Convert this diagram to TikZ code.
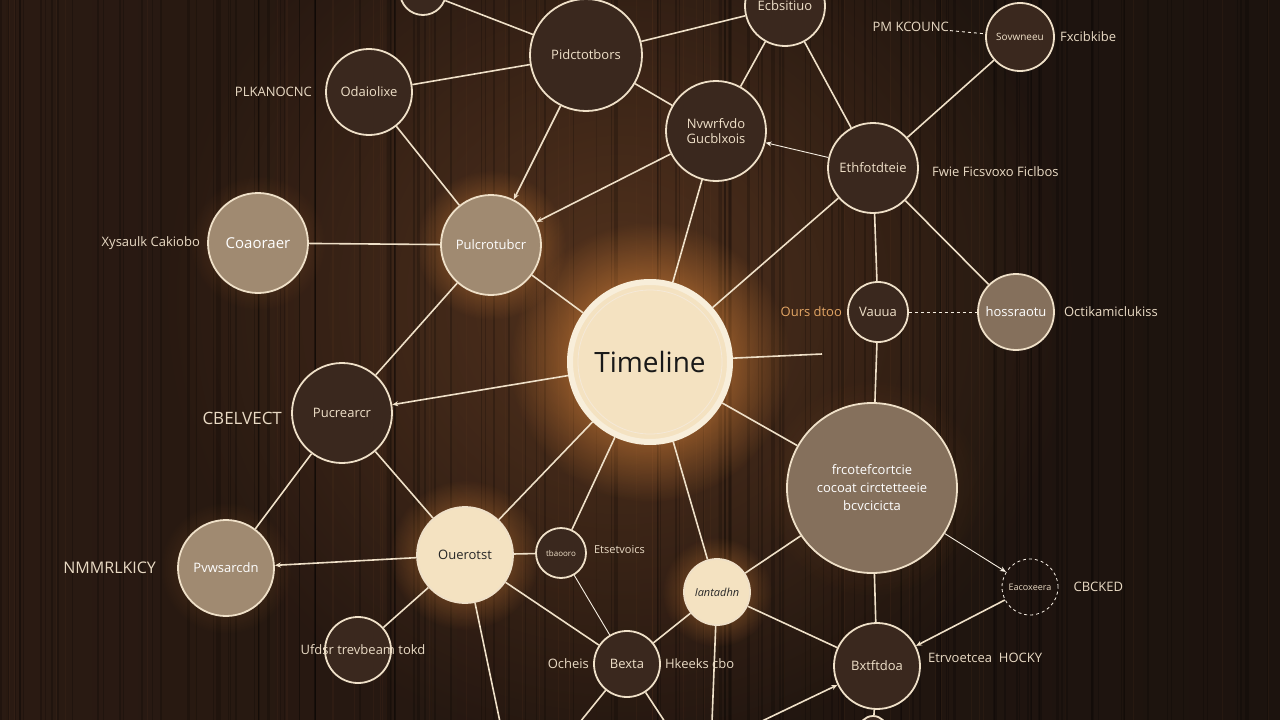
\documentclass[tikz,border=0pt]{standalone}
\usepackage{fontspec}
\setmainfont{Open Sans}
\usetikzlibrary{arrows.meta}
\usetikzlibrary{fadings}

\pgfdeclarelayer{woodlayer}
\pgfdeclarelayer{glowlayer}
\pgfdeclarelayer{edgelayer}
\pgfsetlayers{woodlayer,glowlayer,edgelayer,main}

\definecolor{woodbase}{HTML}{1C130E}
\definecolor{woodleft}{HTML}{2A1A12}
\definecolor{woodwarm}{HTML}{6A4024}
\definecolor{linecol}{HTML}{EFE0C8}
\definecolor{darkfill}{HTML}{3A281E}
\definecolor{tanfill}{HTML}{A08A71}
\definecolor{midfill}{HTML}{85705C}
\definecolor{creamfill}{HTML}{F4E2C1}
\definecolor{glowcol}{HTML}{FF9A40}
\definecolor{labelcol}{HTML}{E9DAC4}
\definecolor{orangelab}{HTML}{E2A564}

\tikzfading[name=glowfade, inner color=transparent!15, outer color=transparent!100]

\tikzset{
  topic/.style={circle, draw=linecol, line width=1.8pt, inner sep=1pt,
    text=linecol, align=center, font=\fontsize{13}{15}\selectfont},
  darktopic/.style={topic, fill=darkfill},
  tantopic/.style={topic, fill=tanfill, text=white},
  creamtopic/.style={topic, fill=creamfill, text=black!85},
  sidelabel/.style={text=labelcol, inner sep=1pt, font=\fontsize{13}{15}\selectfont},
  link/.style={draw=linecol, line width=1.6pt},
  faintlink/.style={draw=linecol!55, line width=0.9pt},
  tip/.style={-{Stealth[length=6pt,width=5pt]}},
}

\begin{document}
\begin{tikzpicture}[x=1pt,y=-1pt]
\useasboundingbox (0,0) rectangle (1280,720);

% wood background
\begin{pgfonlayer}{woodlayer}
  \shade[left color=woodleft, right color=woodbase] (0,0) rectangle (1280,720);
  \fill[woodwarm, path fading=glowfade, opacity=0.8] (620,300) circle (460);
  \pgfmathsetseed{11}
  \foreach \i in {1,...,140} {
    \pgfmathsetmacro\gx{rnd*1280}
    \pgfmathsetmacro\gw{0.4+rnd*2.5}
    \draw[black, opacity=0.2, line width=\gw pt] (\gx,0) -- (\gx,720);
  }
  \foreach \i in {1,...,50} {
    \pgfmathsetmacro\gx{rnd*1280}
    \draw[woodwarm, opacity=0.12, line width=1pt] (\gx,0) -- (\gx,720);
  }
\end{pgfonlayer}

% topics
\node[darktopic, minimum size=46] (tiny) at (423,-8) {};
\node[darktopic, minimum size=112] (pid) at (586,55) {Pidctotbors};
\node[darktopic, minimum size=80] (ecb) at (785,6) {Ecbsitiuo};
\node[darktopic, minimum size=86] (oda) at (369,92) {Odaiolixe};
\node[darktopic, minimum size=100] (nvw) at (716,131) {Nvwrfvdo\\Gucblxois};
\node[darktopic, minimum size=90] (eth) at (873,168) {Ethfotdteie};
\node[darktopic, minimum size=68, font=\fontsize{10}{12}\selectfont] (sov) at (1020,37) {Sovwneeu};
\node[tantopic, minimum size=100, font=\fontsize{15}{17}\selectfont] (coa) at (258,243) {Coaoraer};
\node[tantopic, minimum size=100] (pul) at (491,245) {Pulcrotubcr};
\node[circle, fill=creamfill, draw=creamfill!60!white, line width=6pt,
      minimum size=160, text=black!90, font=\fontsize{28}{32}\selectfont] (time) at (650,362) {Timeline};
\draw[linecol!70!white, line width=0.8pt] (time.center) circle (72);
\node[darktopic, minimum size=60] (vau) at (878,312) {Vauua};
\node[topic, fill=midfill, text=white, minimum size=76] (hos) at (1016,312) {hossraotu};
\coordinate (dangle) at (822,354);
\node[darktopic, minimum size=100] (puc) at (342,413) {Pucrearcr};
\node[topic, fill=midfill, text=white, minimum size=170, font=\fontsize{13}{18}\selectfont] (big) at (872,488)
  {frcotefcortcie\\cocoat circtetteeie\\bcvcicicta};
\node[tantopic, minimum size=96] (pvw) at (226,568) {Pvwsarcdn};
\node[creamtopic, minimum size=96] (oue) at (465,555) {Ouerotst};
\node[darktopic, minimum size=50, font=\fontsize{8}{10}\selectfont] (tba) at (561,553) {tbaooro};
\node[creamtopic, minimum size=66, font=\itshape\fontsize{11}{13}\selectfont] (ian) at (717,592) {Iantadhn};
\node[darktopic, minimum size=66] (ufd) at (358,650) {};
\node[darktopic, minimum size=66] (bex) at (627,664) {Bexta};
\node[darktopic, minimum size=86] (bxt) at (877,666) {Bxtftdoa};
\node[circle, draw=linecol!50, dashed, line width=0.8pt, minimum size=56,
      text=labelcol, font=\fontsize{9}{11}\selectfont] (eac) at (1030,587) {Eacoxeera};
\node[darktopic, minimum size=28] (foot) at (873,730) {};

% side labels
\node[sidelabel, anchor=east] (odalab) at ([xshift=-12pt]oda.west) {PLKANOCNC};
\node[sidelabel, anchor=west] (ethlab) at ([xshift=12pt,yshift=-4pt]eth.east) {Fwie Ficsvoxo Ficlbos};
\node[sidelabel, anchor=west] (sovlab) at ([xshift=4pt]sov.east) {Fxcibkibe};
\node[sidelabel, anchor=east] (pmlab) at (950,27) {PM KCOUNC};
\node[sidelabel, anchor=east] (coalab) at ([xshift=-6pt]coa.west) {Xysaulk Cakiobo};
\node[sidelabel, anchor=east, text=orangelab] (vaulab) at ([xshift=-4pt]vau.west) {Ours dtoo};
\node[sidelabel, anchor=west] (hoslab) at ([xshift=8pt]hos.east) {Octikamiclukiss};
\node[sidelabel, anchor=east, font=\fontsize{17}{19}\selectfont] (puclab) at ([xshift=-8pt,yshift=-5pt]puc.west) {CBELVECT};
\node[sidelabel, anchor=east, font=\fontsize{16}{18}\selectfont] (pvwlab) at ([xshift=-20pt]pvw.west) {NMMRLKICY};
\node[sidelabel, anchor=west, font=\fontsize{11}{13}\selectfont] (tbalab) at ([xshift=6pt,yshift=3pt]tba.east) {Etsetvoics};
\node[sidelabel] (ufdlab) at ([xshift=5pt]ufd.center) {Ufdsr trevbeam tokd};
\node[sidelabel, anchor=east] (bexleft) at ([xshift=-3pt]bex.west) {Ocheis};
\node[sidelabel, anchor=west] (bexright) at ([xshift=3pt]bex.east) {Hkeeks cbo};
\node[sidelabel, anchor=west] (bxtlab) at ([xshift=6pt,yshift=8pt]bxt.east) {Etrvoetcea\ \ HOCKY};
\node[sidelabel, anchor=west] (eaclab) at ([xshift=14pt]eac.east) {CBCKED};

% glow behind the bright topics
\begin{pgfonlayer}{glowlayer}
  \fill[glowcol, path fading=glowfade] (time.center) circle (140);
  \fill[glowcol, path fading=glowfade, opacity=0.7] (pul.center) circle (75);
  \fill[glowcol, path fading=glowfade, opacity=0.7] (oue.center) circle (75);
  \fill[glowcol, path fading=glowfade, opacity=0.6] (ian.center) circle (55);
  \fill[glowcol, path fading=glowfade, opacity=0.3] (coa.center) circle (68);
  \fill[glowcol, path fading=glowfade, opacity=0.3] (pvw.center) circle (66);
  \fill[glowcol, path fading=glowfade, opacity=0.2] (big.center) circle (110);
\end{pgfonlayer}

% connectors
\coordinate (oueend) at (500,722);
\coordinate (ianend) at (712,722);
\coordinate (bexsw) at (580,722);
\coordinate (bexse) at (665,722);
\coordinate (bxtsw) at (760,722);
\begin{pgfonlayer}{edgelayer}
  \path[link] (time) -- (pul);
  \path[link] (time) -- (nvw);
  \path[link] (time) -- (eth);
  \path[link] (time) -- (dangle);
  \path[link, tip] (time) -- (puc);
  \path[link] (time) -- (oue);
  \path[link] (time) -- (tba);
  \path[link] (time) -- (ian);
  \path[link] (time) -- (big);
  \path[link] (pul) -- (coa);
  \path[link] (pul) -- (oda);
  \path[link, tip] (pid) -- (pul);
  \path[link, tip] (nvw) -- (pul);
  \path[link] (pul) -- (puc);
  \path[link] (pid) -- (oda);
  \path[link] (pid) -- (tiny);
  \path[link] (pid) -- (ecb);
  \path[link] (pid) -- (nvw);
  \path[link] (ecb) -- (nvw);
  \path[link] (ecb) -- (eth);
  \path[faintlink, tip] (eth) -- (nvw);
  \path[link] (eth) -- (sov);
  \path[faintlink, dashed] (pmlab) -- (sov);
  \path[link] (eth) -- (vau);
  \path[link] (eth) -- (hos);
  \path[faintlink, dashed] (vau) -- (hos);
  \path[link] (vau) -- (big);
  \path[link] (puc) -- (pvw);
  \path[link] (puc) -- (oue);
  \path[link, tip] (oue) -- (pvw);
  \path[link] (oue) -- (tba);
  \path[link] (oue) -- (ufd);
  \path[link] (oue) -- (bex);
  \path[link] (oue) -- (oueend);
  \path[faintlink] (tba) -- (bex);
  \path[link] (ian) -- (big);
  \path[link] (ian) -- (bxt);
  \path[link] (ian) -- (bex);
  \path[link] (ian) -- (ianend);
  \path[link] (bex) -- (bexsw);
  \path[link] (bex) -- (bexse);
  \path[link] (big) -- (bxt);
  \path[faintlink, tip] (big) -- (eac);
  \path[link, tip] (eac) -- (bxt);
  \path[link, tip] (bxtsw) -- (bxt);
  \path[link] (bxt) -- (foot);
\end{pgfonlayer}
\end{tikzpicture}
\end{document}
